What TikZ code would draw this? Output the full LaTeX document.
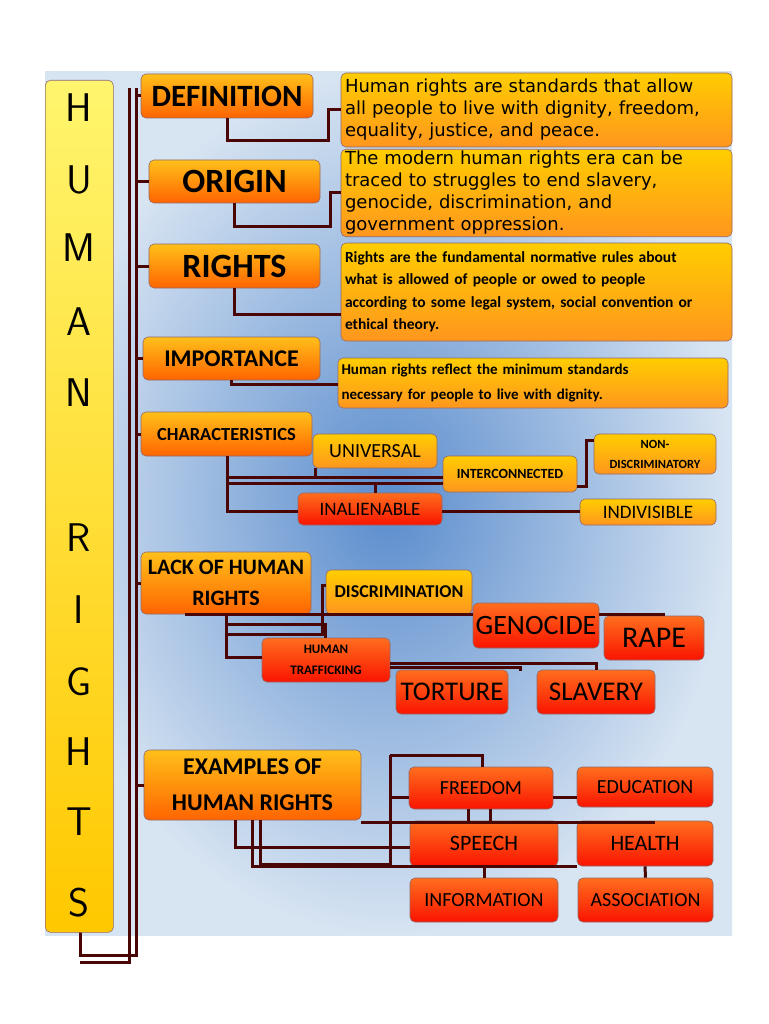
\documentclass[tikz,border=0pt]{standalone}
\usepackage{fontspec}
\setmainfont{Carlito}
\newfontfamily\dejavu{DejaVu Sans}
\usetikzlibrary{calc}
\definecolor{conn}{HTML}{4A0505}
\tikzset{
  box/.style={rounded corners=5pt, draw=conn!60, line width=0.6pt, inner sep=2pt, align=center},
  cat/.style={box, top color=orange!55!yellow!90!white, bottom color={rgb,255:red,255;green,100;blue,0}, font=\bfseries},
  txt/.style={box, top color={rgb,255:red,255;green,205;blue,0}, bottom color={rgb,255:red,255;green,150;blue,30}},
  red/.style={box, top color={rgb,255:red,255;green,110;blue,30}, bottom color={rgb,255:red,250;green,20;blue,0}},
  ln/.style={draw=conn, line width=3pt},
}
\begin{document}
\begin{tikzpicture}[x=1pt,y=-1pt]
\useasboundingbox (0,0) rectangle (768,1024);
\fill[white] (0,0) rectangle (768,1024);
\shade[inner color={rgb,255:red,90;green,140;blue,205}, outer color={rgb,255:red,215;green,228;blue,242}] (45,72) rectangle (732,935);
% spine
\draw[ln] (136,88) -- (136,955) -- (80,955) -- (80,932);
\draw[ln] (129,88) -- (129,962) -- (80,962);
% vertical title
\node[box, top color={rgb,255:red,255;green,245;blue,110}, bottom color={rgb,255:red,255;green,200;blue,0}, minimum width=68pt, minimum height=852pt, anchor=north west] (hr) at (45,80) {};
\foreach \l/\yy in {H/108,U/180,M/248,A/322,N/393,R/538,I/610,G/682,H/752,T/822,S/903}
  \node[font=\fontsize{40}{40}\selectfont\sffamily] at (79,\yy) {\l};
% categories
\node[cat, minimum width=172pt, minimum height=44pt, font=\bfseries\fontsize{31}{31}\selectfont] (def) at (227,96) {DEFINITION};
\node[cat, minimum width=171pt, minimum height=43pt, font=\bfseries\fontsize{34}{34}\selectfont] (ori) at (234.5,181.5) {ORIGIN};
\node[cat, minimum width=171pt, minimum height=44pt, font=\bfseries\fontsize{34}{34}\selectfont] (rig) at (234.5,266) {RIGHTS};
\node[cat, minimum width=177pt, minimum height=43pt, font=\bfseries\fontsize{24}{24}\selectfont] (imp) at (231.5,358.5) {IMPORTANCE};
\node[cat, minimum width=171pt, minimum height=44pt, font=\bfseries\fontsize{18.5}{18.5}\selectfont] (cha) at (226.5,434) {CHARACTERISTICS};
\node[cat, minimum width=170pt, minimum height=62pt, font=\bfseries\fontsize{22}{31}\selectfont] (lack) at (226,583) {LACK OF HUMAN\\RIGHTS};
\node[cat, minimum width=217pt, minimum height=70pt, font=\bfseries\fontsize{24}{36}\selectfont] (ex) at (252.5,785) {EXAMPLES OF\\HUMAN RIGHTS};
% text boxes
\tikzset{para/.style={txt, align=left, text width=383pt}}
\node[para, minimum width=391pt, minimum height=74pt, font=\dejavu\fontsize{18}{22}\selectfont] (tdef) at (536.5,110) {Human rights are standards that allow\\ all people to live with dignity, freedom,\\ equality, justice, and peace.};
\node[para, minimum width=391pt, minimum height=70pt, font=\dejavu\fontsize{18}{22}\selectfont] (tori) at (536.5,193) {The modern human rights era can be\\ traced to struggles to end slavery,\\ genocide, discrimination, and\\ government oppression.};
\node[para, minimum width=391pt, minimum height=98pt, font=\bfseries\fontsize{15.5}{22.5}\selectfont] (trig) at (536.5,292) {Rights are the fundamental normative rules about\\ what is allowed of people or owed to people\\ according to some legal system, social convention or\\ ethical theory.};
\node[para, minimum width=390pt, minimum height=50pt, font=\bfseries\fontsize{15}{25}\selectfont] (timp) at (533,383) {Human rights reflect the minimum standards\\ necessary for people to live with dignity.};
% characteristics
\node[txt, minimum width=124pt, minimum height=34pt, font=\fontsize{20}{20}\selectfont] (uni) at (375,451) {UNIVERSAL};
\node[txt, minimum width=134pt, minimum height=36pt, font=\bfseries\fontsize{14}{14}\selectfont] (int) at (510,474) {INTERCONNECTED};
\node[txt, minimum width=122pt, minimum height=40pt, font=\bfseries\fontsize{12.5}{20}\selectfont] (non) at (655,454) {NON-\\DISCRIMINATORY};
\node[red, minimum width=144pt, minimum height=32pt, font=\fontsize{19}{19}\selectfont] (ina) at (370,509) {INALIENABLE};
\node[txt, minimum width=136pt, minimum height=26pt, font=\fontsize{19}{19}\selectfont] (ind) at (648,512) {INDIVISIBLE};
% lack
\node[txt, minimum width=146pt, minimum height=44pt, font=\bfseries\fontsize{18}{18}\selectfont] (dis) at (399,592) {DISCRIMINATION};
\node[red, minimum width=126pt, minimum height=45pt, font=\fontsize{28}{28}\selectfont] (gen) at (536,625.5) {GENOCIDE};
\node[red, minimum width=100pt, minimum height=44pt, font=\fontsize{30}{30}\selectfont] (rape) at (654,638) {RAPE};
\node[red, minimum width=128pt, minimum height=44pt, font=\bfseries\fontsize{13}{21}\selectfont] (tra) at (326,660) {HUMAN\\TRAFFICKING};
\node[red, minimum width=112pt, minimum height=44pt, font=\fontsize{27}{27}\selectfont] (tor) at (452,692) {TORTURE};
\node[red, minimum width=118pt, minimum height=44pt, font=\fontsize{27}{27}\selectfont] (sla) at (596,692) {SLAVERY};
% examples
\node[red, minimum width=144pt, minimum height=42pt, font=\fontsize{20}{20}\selectfont] (fre) at (481,788) {FREEDOM};
\node[red, minimum width=136pt, minimum height=40pt, font=\fontsize{20}{20}\selectfont] (edu) at (645,787) {EDUCATION};
\node[red, minimum width=148pt, minimum height=45pt, font=\fontsize{22}{22}\selectfont] (spe) at (484,843.5) {SPEECH};
\node[red, minimum width=136pt, minimum height=45pt, font=\fontsize{22}{22}\selectfont] (hea) at (645,843.5) {HEALTH};
\node[red, minimum width=148pt, minimum height=44pt, font=\fontsize{20}{20}\selectfont] (inf) at (484,900) {INFORMATION};
\node[red, minimum width=135pt, minimum height=44pt, font=\fontsize{20}{20}\selectfont] (ass) at (645.5,900) {ASSOCIATION};
% spine branches
\foreach \n in {def,ori,rig,imp,cha,lack,ex} \draw[ln] (136,0 |- \n.west) -- (\n.west);
% category -> text
\draw[ln] (def.south) -- ($(def.south)+(0,22)$) -| ($(tdef.west)+(-12,0)$) -- (tdef.west);
\draw[ln] (ori.south) -- ($(ori.south)+(0,23)$) -| ($(tori.west)+(-10,0)$) -- (tori.west);
\draw[ln] (rig.south) -- ($(rig.south)+(0,26)$) -- (trig.west |- {$(rig.south)+(0,26)$});
\draw[ln] (imp.south) -- ($(imp.south)+(0,4)$) -- (timp.west |- {$(imp.south)+(0,4)$});
% characteristics
\draw[ln] (227,456) -- (227,511) -- (ina.west |- 0,511);
\draw[ln] (227,477) -- (int.west |- 0,477);
\draw[ln] (227,483) -- (int.west |- 0,483);
\draw[ln] (315,477) -- (315,468);
\draw[ln] (375,483) -- (375,493);
\draw[ln] (ina.east |- 0,511) -- (ind.west |- 0,511);
\draw[ln] (577,486) -- (586,486) -- (586,440) -- (non.west |- 0,440);
% lack
\draw[ln] (226,614) -- (226,657) -- (tra.west |- 0,657);
\draw[ln] (226,624) -- (325,624) -- (325,638);
\draw[ln] (226,634) -- (325,634);
\draw[ln] (322,634) -- (322,585) -- (dis.west |- 0,585);
\draw[ln] (185,614) -- (gen.west |- 0,614);
\draw[ln] (gen.east |- 0,614) -- (663,614) -- (663,616);
\draw[ln] (tra.east |- 0,663) -- (596,663) -- (596,670);
\draw[ln] (tra.east |- 0,667) -- (520,667) -- (520,671);
% examples
\draw[ln] (235,820) -- (235,847) -- (spe.west |- 0,847);
\draw[ln] (252,820) -- (252,866) -- (hea.west |- 0,866);
\draw[ln] (260,820) -- (260,864) -- (390,864);
\draw[ln] (390,755) -- (390,866);
\draw[ln] (390,797) -- (fre.west |- 0,797);
\draw[ln] (390,755) -- (482,755) -- (482,767);
\draw[ln] (361,822) -- (655,822);
\draw[ln] (fre.east |- 0,797) -- (edu.west |- 0,797);
\draw[ln] (468,809) -- (468,821);
\draw[ln] (490,809) -- (490,821);
\draw[ln] (hea.south) -- (ass.north);
\draw[ln] (spe.south) -- (inf.north);
\end{tikzpicture}
\end{document}
